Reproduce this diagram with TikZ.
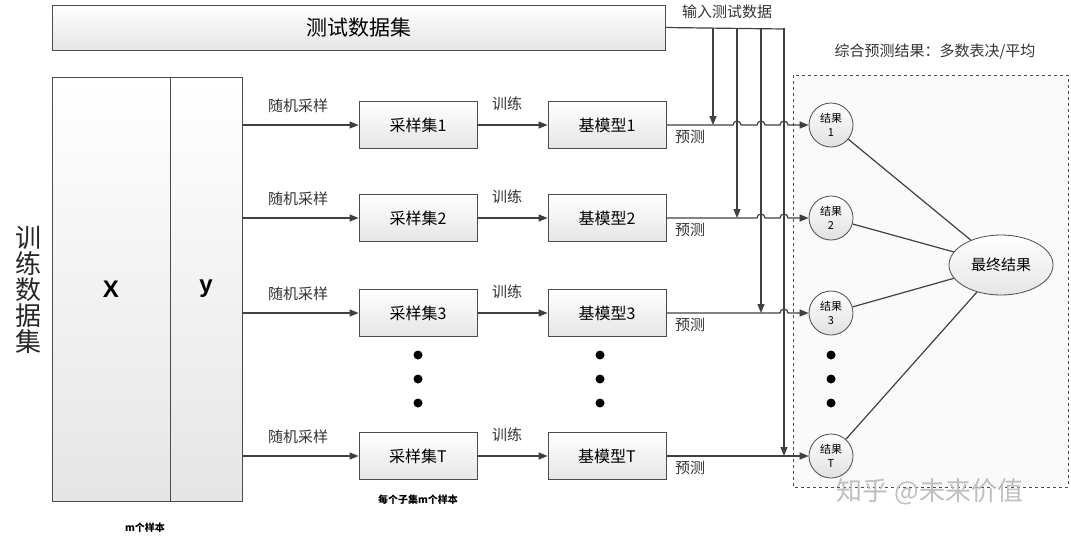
\documentclass[tikz,border=0pt]{standalone}
\usepackage{fontspec}
\setmainfont{Noto Sans CJK SC}
\newfontfamily\latin{Liberation Sans}
\usetikzlibrary{arrows.meta,shapes.geometric}
\begin{document}
\begin{tikzpicture}[x=1pt,y=-1pt,
 box/.style={draw=black!70,line width=0.8pt,top color=white,bottom color=black!10,minimum width=118pt,minimum height=47pt,inner sep=0pt,font=\fontsize{16}{16}\selectfont},
 res/.style={circle,draw=black!70,line width=0.8pt,top color=white,bottom color=black!12,minimum size=44pt,inner sep=0pt,align=center,font=\fontsize{11}{14}\selectfont},
 arr/.style={line width=1.2pt,draw=black!75,-{Triangle[length=9pt,width=7pt]}},
 ln/.style={line width=1.2pt,draw=black!75},
 lab/.style={font=\fontsize{15}{15}\selectfont,text=black!80},
 dot/.style={circle,fill=black,inner sep=0pt,minimum size=9pt}]
\useasboundingbox (0,0) rectangle (1071,539);
\node[box,minimum width=613pt,minimum height=45pt,font=\fontsize{21}{21}\selectfont] (test) at (358.5,27.5) {测试数据集};
\node[draw=black!70,line width=0.8pt,top color=white,bottom color=black!10,minimum width=118pt,minimum height=424pt] (X) at (111,289) {\latin\bfseries\fontsize{24}{24}\selectfont X};
\node[draw=black!70,line width=0.8pt,top color=white,bottom color=black!10,minimum width=72pt,minimum height=424pt] (Y) at (206,289) {\latin\bfseries\fontsize{24}{24}\selectfont y};
\node[font=\fontsize{26}{30}\selectfont,align=center,text=black!85] (train) at (28,290) {训\\[-4pt]练\\[-4pt]数\\[-4pt]据\\[-4pt]集};
\node[font=\bfseries\fontsize{10}{10}\selectfont] (m) at (145,528) {m个样本};
\node[font=\bfseries\fontsize{10}{10}\selectfont] (msub) at (418,500) {每个子集m个样本};
\draw[dashed,draw=black!70,line width=0.8pt,fill=black!2] (793,75) rectangle (1068,487);
\node[lab] (inlab) at (727,12) {输入测试数据};
\node[lab] (comb) at (935,52) {综合预测结果：多数表决/平均};
\node[draw=black!70,line width=0.8pt,ellipse,top color=white,bottom color=black!10,minimum width=104pt,minimum height=60pt,font=\fontsize{15}{15}\selectfont] (final) at (1001,265) {最终结果};
\foreach \i/\y/\t in {1/125/1,2/218/2,3/313/3,4/456/T}{
  \node[box] (s\i) at (418,\y) {采样集\t};
  \node[box] (b\i) at (607,\y) {基模型\t};
  \node[res] (r\i) at (831,\y) {结果\\\t};
  \node[lab] (sl\i) at (298,\y-19) {随机采样};
  \node[lab] (tl\i) at (507,\y-21) {训练};
  \node[lab] (pl\i) at (690,\y+12) {预测};
  \draw[arr] (Y.east|-s\i.west) -- (s\i.west);
  \draw[arr] (s\i.east) -- (b\i.west);
  \draw[ln] (r\i) -- (final);
}
\foreach \x/\n in {418/a,600/b,831/c}{
  \node[dot] (d\n1) at (\x,355) {};
  \node[dot] (d\n2) at (\x,379) {};
  \node[dot] (d\n3) at (\x,403) {};
}
\coordinate (v1) at (713,125); \coordinate (v2) at (737,218);
\coordinate (v3) at (761,313); \coordinate (v4) at (784,456);
\draw[ln] (test.east) -- (784,29);
\foreach \i in {1,...,4}{ \draw[arr] (v\i|-test.east) -- (v\i); }
\draw[arr] (b1.east) -- (733,125) arc (180:360:4) -- (757,125) arc (180:360:4) -- (780,125) arc (180:360:4) -- (r1.west);
\draw[arr] (b2.east) -- (757,218) arc (180:360:4) -- (780,218) arc (180:360:4) -- (r2.west);
\draw[arr] (b3.east) -- (780,313) arc (180:360:4) -- (r3.west);
\draw[arr] (b4.east) -- (r4.west);
\node[font=\fontsize{26}{26}\selectfont,text=black!25] (wm) at (930,492) {知乎 @未来价值};
\end{tikzpicture}
\end{document}
